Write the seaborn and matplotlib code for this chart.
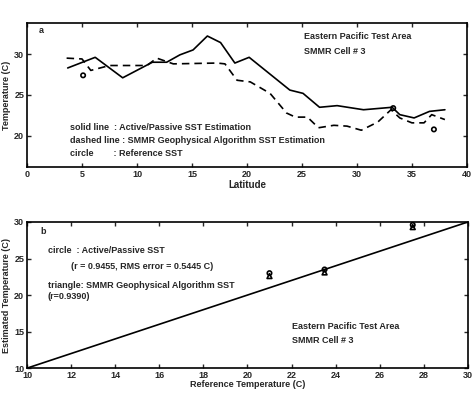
import numpy as np
import pandas as pd
import seaborn as sns
import matplotlib.pyplot as plt

# panel a: SST along latitude
lat_solid = [3.7, 6.2, 8.7, 11.4, 12.7, 13.9, 15.1, 16.4, 17.6, 18.9, 20.2,
             23.9, 25.1, 26.6, 28.2, 30.6, 33.2, 33.9, 35.2, 36.6, 38.0]
sst_solid = [28.3, 29.6, 27.1, 29.0, 29.0, 29.9, 30.5, 32.2, 31.4, 28.9, 29.6,
             25.6, 25.2, 23.5, 23.7, 23.2, 23.5, 22.6, 22.2, 23.0, 23.2]

lat_dashed = [3.6, 5.0, 5.8, 7.5, 10.9, 11.8, 13.3, 17.3, 18.0, 19.1, 20.3, 22.1, 23.6,
              24.4, 25.5, 26.5, 27.9, 29.1, 30.4, 31.9, 33.1, 33.9, 35.0, 36.1, 36.8, 38.0]
sst_dashed = [29.5, 29.4, 28.0, 28.6, 28.6, 29.5, 28.8, 28.9, 28.8, 26.8, 26.6, 25.2, 22.8,
              22.3, 22.3, 21.0, 21.3, 21.2, 20.7, 21.7, 23.2, 22.2, 21.6, 21.6, 22.6, 22.0]

lat_ref = [5.1, 33.3, 37.0]
sst_ref = [27.4, 23.4, 20.8]

# panel b: estimated vs reference
ref_temp = [27.5, 23.5, 21.0]
est_circle = [29.6, 23.5, 23.0]
est_triangle = [29.3, 23.1, 22.6]
one_to_one = [10, 30]

sns.set_style("ticks")
plt.rcParams['font.family'] = ['Liberation Sans', 'DejaVu Sans']
plt.rcParams['font.weight'] = 'bold'
fs = 6.5

fig = plt.figure(figsize=(4.74, 3.95), dpi=100)
ax1 = fig.add_axes([0.057, 0.577, 0.928, 0.365])
ax2 = fig.add_axes([0.057, 0.068, 0.930, 0.370])

# --- top panel
sns.lineplot(x=lat_solid, y=sst_solid, ax=ax1, color='black', lw=1.2)
sns.lineplot(x=lat_dashed, y=sst_dashed, ax=ax1, color='black', lw=1.2, dashes=False,
             linestyle=(0, (4.5, 3)))
sns.scatterplot(x=lat_ref, y=sst_ref, ax=ax1, marker='o', s=10, facecolor='none',
                edgecolor='black', linewidth=1.2)
ax1.set_xlim(0, 40)
ax1.set_ylim(16.2, 33.8)
ax1.set_xticks(range(0, 41, 5))
ax1.set_yticks([20, 25, 30])
ax1.set_xlabel('Latitude', fontsize=fs + 0.5, fontweight='bold', labelpad=1)
ax1.set_ylabel('Temperature (C)', fontsize=fs, fontweight='bold', labelpad=2)
ax1.text(1.1, 32.6, 'a', fontsize=fs, fontweight='bold')
ax1.text(25.2, 31.8, 'Eastern Pacific Test Area', fontsize=fs, fontweight='bold')
ax1.text(25.2, 30.0, 'SMMR Cell # 3', fontsize=fs, fontweight='bold')
ax1.text(3.9, 21.0, 'solid line  : Active/Passive SST Estimation', fontsize=fs,
         fontweight='bold', va='center')
ax1.text(3.9, 19.4, 'dashed line : SMMR Geophysical Algorithm SST Estimation', fontsize=fs,
         fontweight='bold', va='center')
ax1.text(3.9, 17.8, 'circle        : Reference SST', fontsize=fs,
         fontweight='bold', va='center')

# --- bottom panel
sns.lineplot(x=one_to_one, y=one_to_one, ax=ax2, color='black', lw=1.2)
sns.scatterplot(x=ref_temp, y=est_circle, ax=ax2, marker='o', s=10, facecolor='none',
                edgecolor='black', linewidth=1.2, clip_on=False)
sns.scatterplot(x=ref_temp, y=est_triangle, ax=ax2, marker='^', s=12, facecolor='none',
                edgecolor='black', linewidth=1.2, clip_on=False)
ax2.set_xlim(10, 30)
ax2.set_ylim(10, 30)
ax2.set_xticks(range(10, 31, 2))
ax2.set_yticks(range(10, 31, 5))
ax2.set_xlabel('Reference Temperature (C)', fontsize=fs, fontweight='bold', labelpad=0)
ax2.set_ylabel('Estimated Temperature (C)', fontsize=fs, fontweight='bold', labelpad=2)
ax2.text(10.6, 28.3, 'b', fontsize=fs, fontweight='bold')
ax2.text(10.95, 25.8, 'circle  : Active/Passive SST', fontsize=fs, fontweight='bold')
ax2.text(12.0, 23.6, '(r = 0.9455, RMS error = 0.5445 C)', fontsize=fs, fontweight='bold')
ax2.text(10.95, 20.9, 'triangle: SMMR Geophysical Algorithm SST', fontsize=fs, fontweight='bold')
ax2.text(10.95, 19.4, '(r=0.9390)', fontsize=fs, fontweight='bold')
ax2.text(22.0, 15.3, 'Eastern Pacific Test Area', fontsize=fs, fontweight='bold')
ax2.text(22.0, 13.5, 'SMMR Cell # 3', fontsize=fs, fontweight='bold')

for ax in (ax1, ax2):
    ax.tick_params(direction='in', top=True, right=True, labelsize=fs, length=3,
                   width=1, pad=2)
    for lbl in ax.get_xticklabels() + ax.get_yticklabels():
        lbl.set_fontweight('bold')
    for sp in ax.spines.values():
        sp.set_linewidth(1.2)
        sp.set_color('black')

fig.savefig('out.png', dpi=100)
